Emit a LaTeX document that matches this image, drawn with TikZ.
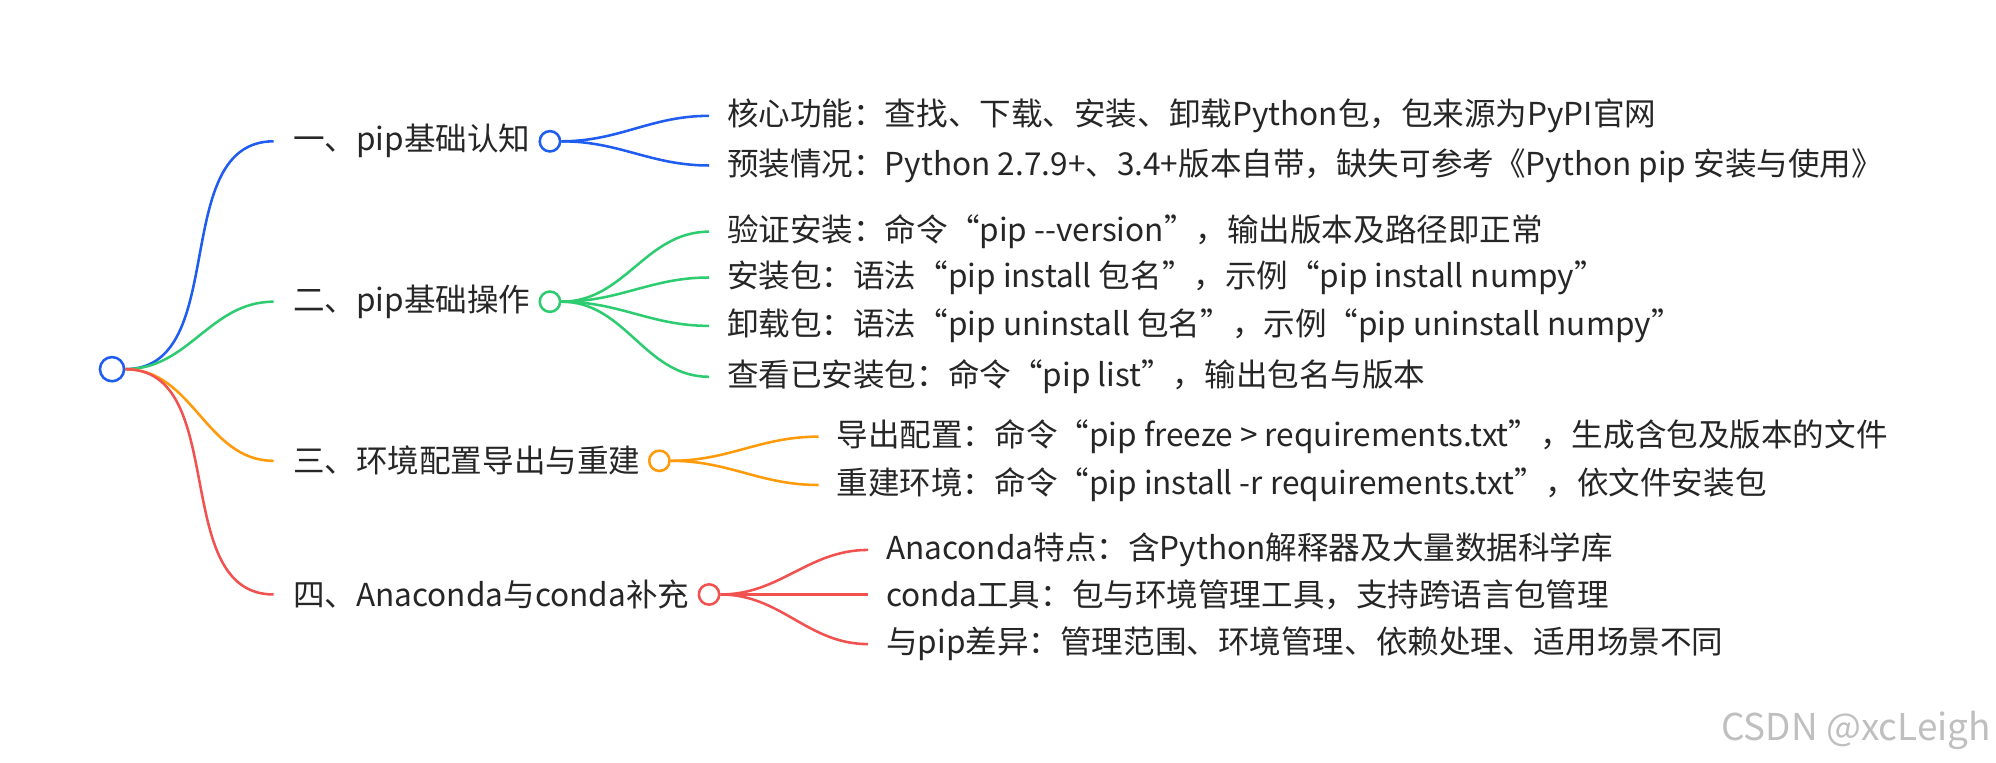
\documentclass[tikz,border=0pt]{standalone}
\usepackage{fontspec}
\setmainfont{Noto Sans CJK SC}
\usetikzlibrary{positioning}
\definecolor{cA}{HTML}{1F5CF0}
\definecolor{cB}{HTML}{2ECC71}
\definecolor{cC}{HTML}{FF9A0A}
\definecolor{cD}{HTML}{F2524F}
\tikzset{
  txt/.style={font=\fontsize{24.8}{28}\selectfont, anchor=west, inner sep=0pt, text=black!85},
  dot/.style={circle, draw, line width=2pt, fill=white, minimum size=16pt, inner sep=0pt},
  br/.style={line width=2pt, out=0, in=180}
}
\begin{document}
\begin{tikzpicture}[x=1pt, y=-1pt]
\useasboundingbox (0,0) rectangle (1568,599);
% root
\node[dot, draw=cA, minimum size=19pt] (root) at (88,290) {};
% level one
\node[txt] (t1) at (230,111) {一、pip基础认知};
\node[txt] (t2) at (230,237) {二、pip基础操作};
\node[txt] (t3) at (230,362) {三、环境配置导出与重建};
\node[txt] (t4) at (230,467) {四、Anaconda与conda补充};
\coordinate (e1) at (215,111);
\coordinate (e2) at (215,237);
\coordinate (e3) at (215,362);
\coordinate (e4) at (215,467);
\draw[br, cA] (root.east) to (e1);
\draw[br, cB] (root.east) to (e2);
\draw[br, cC] (root.east) to (e3);
\draw[br, cD] (root.east) to (e4);
\node[dot, draw=cA] (d1) at (432,111) {};
\node[dot, draw=cB] (d2) at (432,237) {};
\node[dot, draw=cC] (d3) at (518,362) {};
\node[dot, draw=cD] (d4) at (557,467) {};
% leaves
\node[txt] (a1) at (571,91) {核心功能：查找、下载、安装、卸载Python包，包来源为PyPI官网};
\node[txt] (a2) at (571,130) {预装情况：Python 2.7.9+、3.4+版本自带，缺失可参考《Python pip 安装与使用》};
\node[txt] (b1) at (571,182) {验证安装：命令“pip {-}{-}version”，输出版本及路径即正常};
\node[txt] (b2) at (571,218) {安装包：语法“pip install 包名”，示例“pip install numpy”};
\node[txt] (b3) at (571,256) {卸载包：语法“pip uninstall 包名”，示例“pip uninstall numpy”};
\node[txt] (b4) at (571,296) {查看已安装包：命令“pip list”，输出包名与版本};
\node[txt] (c1) at (657,343) {导出配置：命令“pip freeze > requirements.txt”，生成含包及版本的文件};
\node[txt] (c2) at (657,381) {重建环境：命令“pip install -r requirements.txt”，依文件安装包};
\node[txt] (f1) at (696,432) {Anaconda特点：含Python解释器及大量数据科学库};
\node[txt] (f2) at (696,467) {conda工具：包与环境管理工具，支持跨语言包管理};
\node[txt] (f3) at (696,506) {与pip差异：管理范围、环境管理、依赖处理、适用场景不同};
\draw[br, cA] (d1.east) to ([xshift=-14pt]a1.west);
\draw[br, cA] (d1.east) to ([xshift=-14pt]a2.west);
\draw[br, cB] (d2.east) to ([xshift=-14pt]b1.west);
\draw[br, cB] (d2.east) to ([xshift=-14pt]b2.west);
\draw[br, cB] (d2.east) to ([xshift=-14pt]b3.west);
\draw[br, cB] (d2.east) to ([xshift=-14pt]b4.west);
\draw[br, cC] (d3.east) to ([xshift=-14pt]c1.west);
\draw[br, cC] (d3.east) to ([xshift=-14pt]c2.west);
\draw[br, cD] (d4.east) to ([xshift=-14pt]f1.west);
\draw[br, cD] (d4.east) to ([xshift=-14pt]f2.west);
\draw[br, cD] (d4.east) to ([xshift=-14pt]f3.west);
% watermark
\node[txt, text=black!25, font=\fontsize{29}{32}\selectfont] (wm) at (1352,574) {CSDN @xcLeigh};
\end{tikzpicture}
\end{document}
